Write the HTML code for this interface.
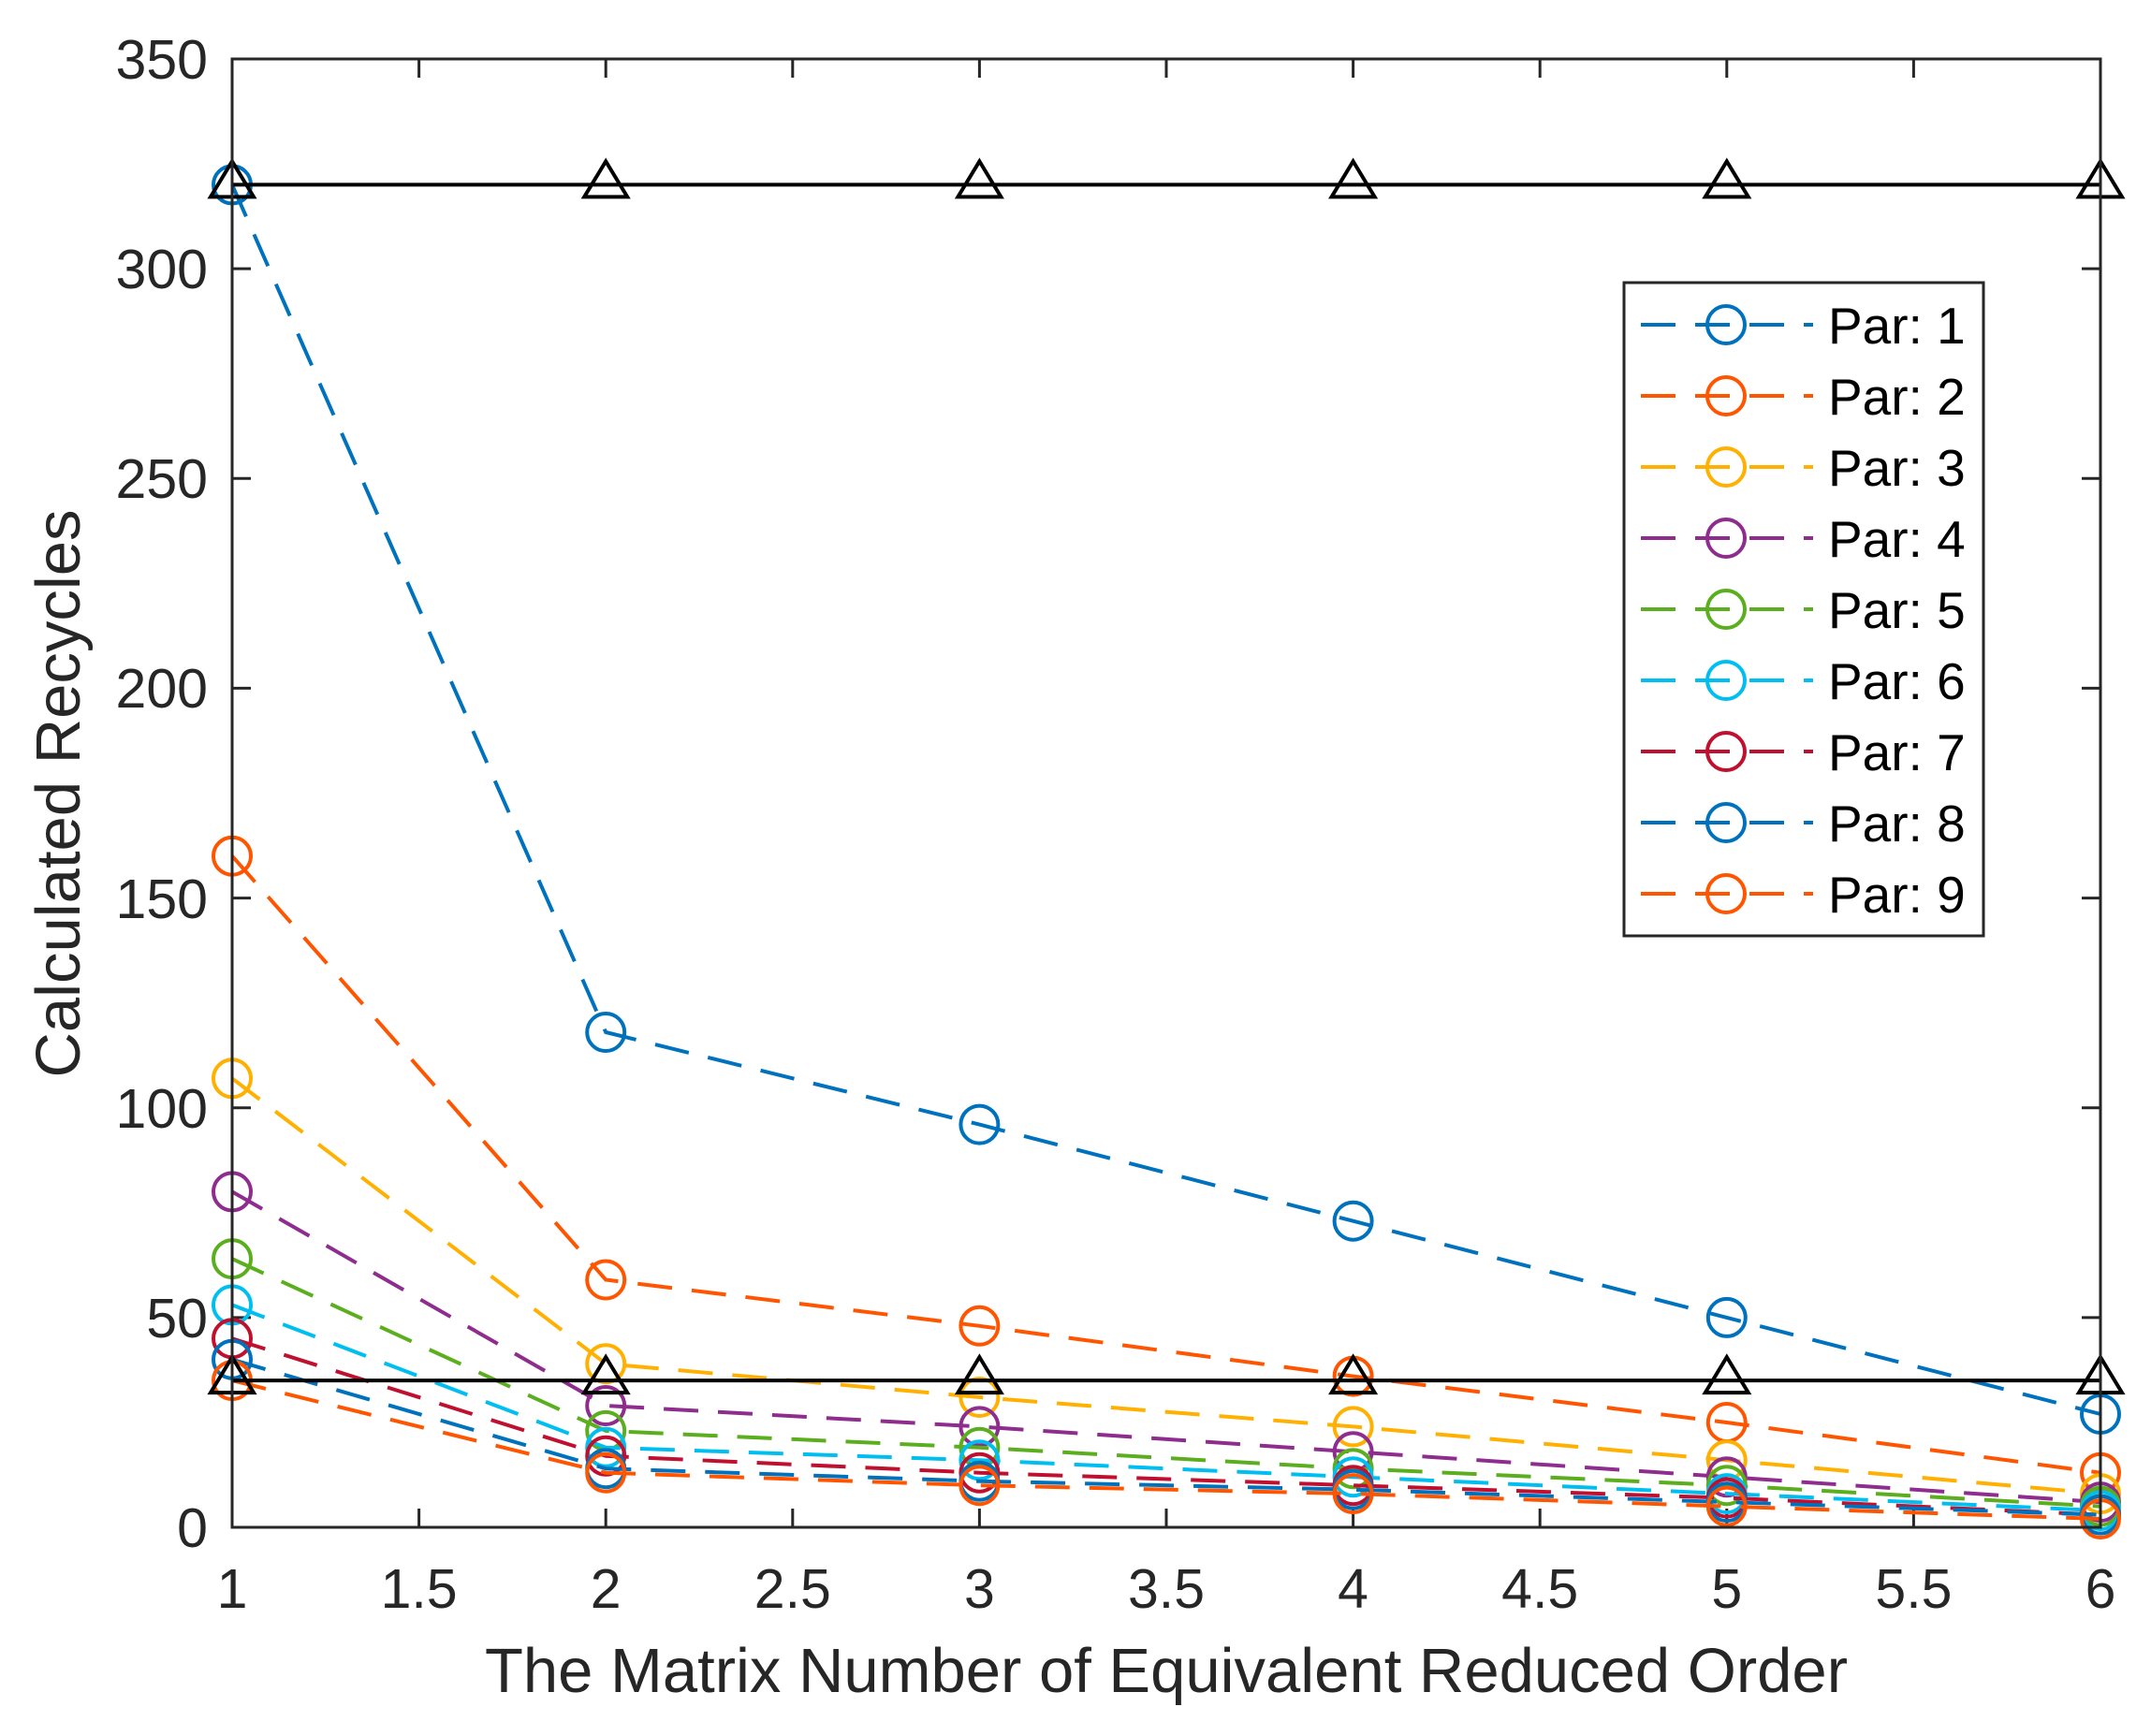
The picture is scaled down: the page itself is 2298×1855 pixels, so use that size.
<!DOCTYPE html>
<html><head><meta charset="utf-8"><style>html,body{margin:0;padding:0;background:#fff}svg{display:block}</style></head>
<body>
<svg width="2298" height="1855" viewBox="0 0 2298 1855" xmlns="http://www.w3.org/2000/svg" font-family="Liberation Sans, Arial, sans-serif">
<defs>
<marker id="mb" markerUnits="userSpaceOnUse" markerWidth="50" markerHeight="50" refX="25" refY="25" overflow="visible"><circle cx="25" cy="25" r="20" fill="none" stroke="#0072BD" stroke-width="4" stroke-dasharray="none"/></marker>
<marker id="mo" markerUnits="userSpaceOnUse" markerWidth="50" markerHeight="50" refX="25" refY="25" overflow="visible"><circle cx="25" cy="25" r="20" fill="none" stroke="#FF5500" stroke-width="4" stroke-dasharray="none"/></marker>
<marker id="my" markerUnits="userSpaceOnUse" markerWidth="50" markerHeight="50" refX="25" refY="25" overflow="visible"><circle cx="25" cy="25" r="20" fill="none" stroke="#FFB000" stroke-width="4" stroke-dasharray="none"/></marker>
<marker id="mp" markerUnits="userSpaceOnUse" markerWidth="50" markerHeight="50" refX="25" refY="25" overflow="visible"><circle cx="25" cy="25" r="20" fill="none" stroke="#8E2D8E" stroke-width="4" stroke-dasharray="none"/></marker>
<marker id="mg" markerUnits="userSpaceOnUse" markerWidth="50" markerHeight="50" refX="25" refY="25" overflow="visible"><circle cx="25" cy="25" r="20" fill="none" stroke="#5BAE1E" stroke-width="4" stroke-dasharray="none"/></marker>
<marker id="mc" markerUnits="userSpaceOnUse" markerWidth="50" markerHeight="50" refX="25" refY="25" overflow="visible"><circle cx="25" cy="25" r="20" fill="none" stroke="#00BFF0" stroke-width="4" stroke-dasharray="none"/></marker>
<marker id="mr" markerUnits="userSpaceOnUse" markerWidth="50" markerHeight="50" refX="25" refY="25" overflow="visible"><circle cx="25" cy="25" r="20" fill="none" stroke="#C0102F" stroke-width="4" stroke-dasharray="none"/></marker>
<marker id="mt" markerUnits="userSpaceOnUse" markerWidth="60" markerHeight="60" refX="30" refY="30" overflow="visible"><path d="M30,5L53,43L7,43Z" fill="none" stroke="#000" stroke-width="4"/></marker>
</defs>
<rect width="2298" height="1855" fill="#fff"/>

<g stroke="#262626" stroke-width="3">
<path d="M248,1632v-20M447.6,1632v-20M647.2,1632v-20M846.8,1632v-20M1046.4,1632v-20M1246,1632v-20M1445.6,1632v-20M1645.2,1632v-20M1844.8,1632v-20M2044.4,1632v-20M2244,1632v-20"/>
<path d="M248,63v20M447.6,63v20M647.2,63v20M846.8,63v20M1046.4,63v20M1246,63v20M1445.6,63v20M1645.2,63v20M1844.8,63v20M2044.4,63v20M2244,63v20"/>
<path d="M248,1632h20M248,1407.9h20M248,1183.7h20M248,959.6h20M248,735.4h20M248,511.3h20M248,287.1h20M248,63h20"/>
<path d="M2244,1632h-20M2244,1407.9h-20M2244,1183.7h-20M2244,959.6h-20M2244,735.4h-20M2244,511.3h-20M2244,287.1h-20M2244,63h-20"/>
</g>
<g font-size="59" fill="#262626" text-anchor="middle">
<text x="248" y="1718">1</text><text x="447.6" y="1718">1.5</text><text x="647.2" y="1718">2</text><text x="846.8" y="1718">2.5</text><text x="1046.4" y="1718">3</text><text x="1246" y="1718">3.5</text><text x="1445.6" y="1718">4</text><text x="1645.2" y="1718">4.5</text><text x="1844.8" y="1718">5</text><text x="2044.4" y="1718">5.5</text><text x="2244" y="1718">6</text>
</g>
<g font-size="59" fill="#262626" text-anchor="end">
<text x="222" y="1653">0</text><text x="222" y="1429">50</text><text x="222" y="1205">100</text><text x="222" y="981">150</text><text x="222" y="756">200</text><text x="222" y="532">250</text><text x="222" y="308">300</text><text x="222" y="84">350</text>
</g>

<g fill="none" stroke-width="4" stroke-dasharray="37 21">
<path stroke="#0072BD" marker-start="url(#mb)" marker-mid="url(#mb)" marker-end="url(#mb)" d="M248,197.4L647.2,1103L1046.4,1201.6L1445.6,1304.7L1844.8,1407.9L2244,1511"/>
<path stroke="#FF5500" marker-start="url(#mo)" marker-mid="url(#mo)" marker-end="url(#mo)" d="M248,914.7L647.2,1367.5L1046.4,1416.8L1445.6,1470.6L1844.8,1520L2244,1573.7"/>
<path stroke="#FFB000" marker-start="url(#my)" marker-mid="url(#my)" marker-end="url(#my)" d="M248,1152.3L647.2,1457.2L1046.4,1493L1445.6,1524.4L1844.8,1560.3L2244,1596.1"/>
<path stroke="#8E2D8E" marker-start="url(#mp)" marker-mid="url(#mp)" marker-end="url(#mp)" d="M248,1273.4L647.2,1502L1046.4,1524.4L1445.6,1551.3L1844.8,1578.2L2244,1605.1"/>
<path stroke="#5BAE1E" marker-start="url(#mg)" marker-mid="url(#mg)" marker-end="url(#mg)" d="M248,1345.1L647.2,1528.9L1046.4,1546.8L1445.6,1569.2L1844.8,1587.2L2244,1609.6"/>
<path stroke="#00BFF0" marker-start="url(#mc)" marker-mid="url(#mc)" marker-end="url(#mc)" d="M248,1394.4L647.2,1546.8L1046.4,1560.3L1445.6,1578.2L1844.8,1596.1L2244,1614.1"/>
<path stroke="#C0102F" marker-start="url(#mr)" marker-mid="url(#mr)" marker-end="url(#mr)" d="M248,1430.3L647.2,1555.8L1046.4,1573.7L1445.6,1587.2L1844.8,1600.6L2244,1618.6"/>
<path stroke="#0072BD" marker-start="url(#mb)" marker-mid="url(#mb)" marker-end="url(#mb)" d="M248,1452.7L647.2,1569.2L1046.4,1582.7L1445.6,1591.7L1844.8,1605.1L2244,1618.6"/>
<path stroke="#FF5500" marker-start="url(#mo)" marker-mid="url(#mo)" marker-end="url(#mo)" d="M248,1475.1L647.2,1573.7L1046.4,1587.2L1445.6,1596.1L1844.8,1609.6L2244,1623"/>
</g>
<g fill="none" stroke="#000" stroke-width="4">
<path marker-start="url(#mt)" marker-mid="url(#mt)" marker-end="url(#mt)" d="M248,197.4L647.2,197.4L1046.4,197.4L1445.6,197.4L1844.8,197.4L2244,197.4"/>
<path marker-start="url(#mt)" marker-mid="url(#mt)" marker-end="url(#mt)" d="M248,1475.1L647.2,1475.1L1046.4,1475.1L1445.6,1475.1L1844.8,1475.1L2244,1475.1"/>
</g>
<rect x="248" y="63" width="1996" height="1569" fill="none" stroke="#262626" stroke-width="3"/>

<rect x="1735" y="302" width="384" height="698" fill="#fff" stroke="#262626" stroke-width="3"/>
<g fill="none" stroke-width="4" stroke-dasharray="37 21">
<path stroke="#0072BD" d="M1753,347H1937"/><path stroke="#FF5500" d="M1753,423H1937"/><path stroke="#FFB000" d="M1753,499H1937"/>
<path stroke="#8E2D8E" d="M1753,575H1937"/><path stroke="#5BAE1E" d="M1753,651H1937"/><path stroke="#00BFF0" d="M1753,727H1937"/>
<path stroke="#C0102F" d="M1753,803H1937"/><path stroke="#0072BD" d="M1753,879H1937"/><path stroke="#FF5500" d="M1753,955H1937"/>
</g>
<g fill="none" stroke-width="4">
<circle cx="1844" cy="347" r="20" stroke="#0072BD"/><circle cx="1844" cy="423" r="20" stroke="#FF5500"/><circle cx="1844" cy="499" r="20" stroke="#FFB000"/>
<circle cx="1844" cy="575" r="20" stroke="#8E2D8E"/><circle cx="1844" cy="651" r="20" stroke="#5BAE1E"/><circle cx="1844" cy="727" r="20" stroke="#00BFF0"/>
<circle cx="1844" cy="803" r="20" stroke="#C0102F"/><circle cx="1844" cy="879" r="20" stroke="#0072BD"/><circle cx="1844" cy="955" r="20" stroke="#FF5500"/>
</g>
<g font-size="55" fill="#000">
<text x="1953" y="367">Par: 1</text><text x="1953" y="443">Par: 2</text><text x="1953" y="519">Par: 3</text>
<text x="1953" y="595">Par: 4</text><text x="1953" y="671">Par: 5</text><text x="1953" y="747">Par: 6</text>
<text x="1953" y="823">Par: 7</text><text x="1953" y="899">Par: 8</text><text x="1953" y="975">Par: 9</text>
</g>
<text x="1246" y="1808" font-size="67" text-anchor="middle" fill="#262626">The Matrix Number of Equivalent Reduced Order</text>
<text transform="translate(85,848) rotate(-90)" font-size="67" text-anchor="middle" fill="#262626">Calculated Recycles</text>
</svg>
</body></html>
